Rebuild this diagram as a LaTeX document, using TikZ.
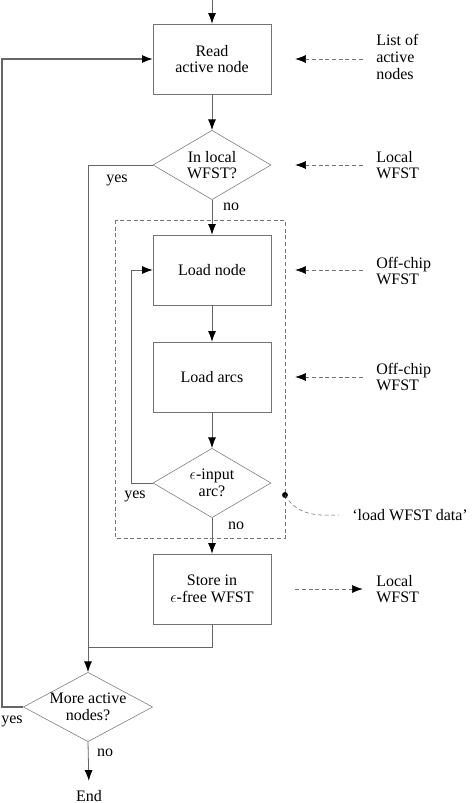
\documentclass[tikz,border=0pt]{standalone}
\usepackage{fontspec}
\setmainfont{Liberation Serif}
\usetikzlibrary{arrows.meta, shapes.geometric, positioning}

\tikzset{
    box/.style={draw=black!55, minimum width=88.5pt, minimum height=52.5pt, align=center, inner sep=2pt},
    test/.style={diamond, draw=black!55, minimum width=88.5pt, minimum height=52pt, aspect=1.7, inner sep=-2pt, align=center},
    flow/.style={draw=black!60, line width=0.6pt, -{Latex[length=8pt, width=6pt, black]}},
    dasharr/.style={draw=black!55, densely dashed, shorten <=10pt, shorten >=18pt, -{Latex[length=8pt, width=6pt, black]}},
    dashback/.style={draw=black!55, densely dashed, shorten <=18pt, shorten >=10pt, -{Latex[length=8pt, width=6pt, black]}},
    side/.style={align=left, anchor=west, inner sep=0pt},
}

\begin{document}
\begin{tikzpicture}[x=0.75pt, y=-0.75pt, font=\fontsize{12}{12.5}\selectfont]
        \useasboundingbox (0, 0) rectangle (474, 803);

        % main flow
        \coordinate (start) at (212, 0);
        \node[box] (read) at (212, 59) {Read\\active node};
        \node[test] (inlocal) at (212, 165) {In local\\WFST?};
        \node[box] (loadnode) at (212, 270) {Load node};
        \node[box] (loadarcs) at (212, 377) {Load arcs};
        \node[test] (eps) at (212, 483) {$\epsilon$-input\\arc?};
        \node[box] (store) at (212, 589) {Store in\\$\epsilon$-free WFST};
        \node[test, minimum width=97pt, aspect=1.9, inner sep=-4pt] (more) at (88, 707) {More active\\nodes?};
        \node[inner sep=1pt] (finish) at (89, 796) {End};

        \coordinate (join) at (88, 647);
        \coordinate (back) at (2, 707);
        \coordinate (loop) at (131, 483);

        \draw[flow] (start) -- (read);
        \draw[flow] (read) -- (inlocal);
        \draw[flow] (inlocal) -- (loadnode);
        \draw[flow] (loadnode) -- (loadarcs);
        \draw[flow] (loadarcs) -- (eps);
        \draw[flow] (eps) -- (store);
        \draw[flow] (eps.west) -- (loop) |- (loadnode.west);
        \draw[draw=black!60, line width=0.6pt] (inlocal.west) -| (join);
        \draw[draw=black!60, line width=0.6pt] (store.south) |- (join);
        \draw[flow] (join) -- (more.north);
        \draw[flow, line width=0.9pt] (more.west) -- (back) |- (read.west);
        \draw[flow, shorten >=6pt] (more.south) -- (finish.north);

        % yes / no
        \node (yes1) at (117, 180) {yes};
        \node (no1) at (231, 207) {no};
        \node (yes2) at (135, 496) {yes};
        \node (no2) at (236, 526) {no};
        \node (yes3) at (12, 721) {yes};
        \node (no3) at (105, 753) {no};

        % data sources
        \node[side] (lst) at (376, 57) {List of\\active\\nodes};
        \node[side] (loc1) at (376, 165) {Local\\WFST};
        \node[side] (off1) at (376, 271) {Off-chip\\WFST};
        \node[side] (off2) at (376, 377) {Off-chip\\WFST};
        \node[side] (loc2) at (376, 589) {Local\\WFST};

        \draw[dasharr] (lst.west |- read.east) -- (read.east);
        \draw[dasharr] (loc1.west |- inlocal.east) -- (inlocal.east);
        \draw[dasharr] (off1.west |- loadnode.east) -- (loadnode.east);
        \draw[dasharr] (off2.west |- loadarcs.east) -- (loadarcs.east);
        \draw[dashback] (store.east) -- (loc2.west |- store.east);

        % group
        \draw[black!55, densely dashed] (115, 220) rectangle (285, 538);
        \coordinate (grp) at (285, 495);
        \fill (grp) circle (2.2pt);
        \node[side] (grplbl) at (352, 515) {`load WFST data'};
        \draw[black!60, densely dashed, shorten >=10pt] (grp) to[out=-60, in=180] (grplbl.west);

    \end{tikzpicture}
\end{document}
